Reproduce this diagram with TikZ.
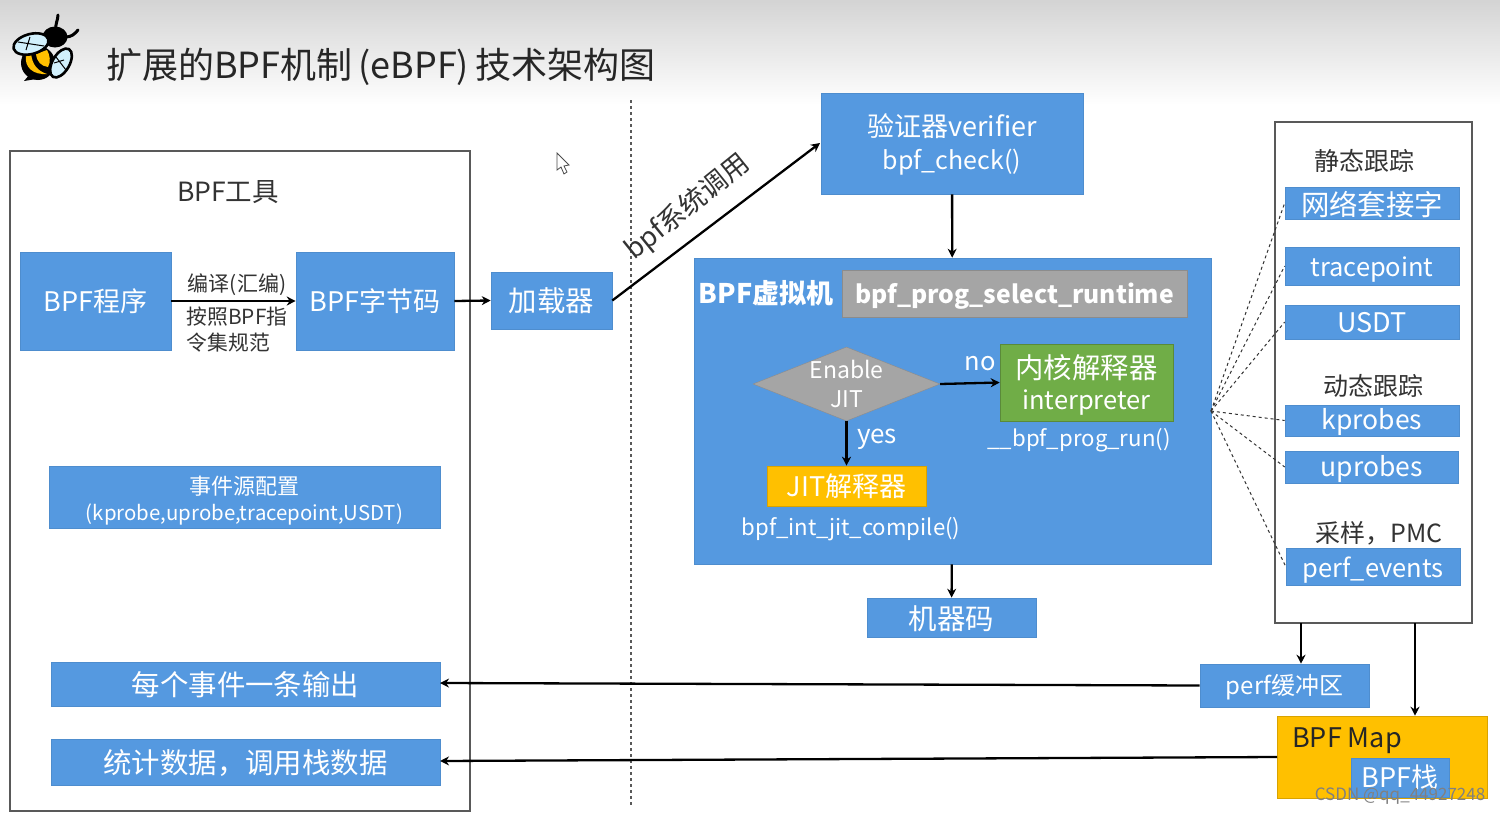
\documentclass[tikz,border=0pt]{standalone}
\usepackage{fontspec}
\setmainfont{Noto Sans CJK SC}
\usepackage{tikz}
\usetikzlibrary{positioning,arrows.meta,shapes.geometric}
\definecolor{boxblue}{HTML}{5599E0}
\definecolor{boxgray}{HTML}{A5A5A5}
\definecolor{boxgreen}{HTML}{70AD47}
\definecolor{boxyellow}{HTML}{FFC000}
\definecolor{inkgray}{HTML}{333333}
\newcommand{\baja}[2]{\raisebox{-#1pt}[\height][\depth]{#2}}
\tikzset{
  arista/.style={line width=2.3pt,-{Stealth[length=9pt,width=9pt]}},
  ramal/.style={line width=1pt,dashed,draw=inkgray},
  caja/.style={draw=boxblue!92!black,line width=0.6pt,fill=boxblue,text=white,inner sep=0pt,align=center,font=\fontsize{27}{34}\selectfont},
  latina/.style={font=\fontsize{25.5}{34}\selectfont},
  hanzi/.style={font=\fontsize{28.4}{34}\selectfont},
  panel/.style={draw=black!65,line width=1.2pt,fill=white,inner sep=0pt},
  rotulo/.style={inner sep=0pt,align=center,text=inkgray,font=\fontsize{25}{28}\selectfont},
  blanco/.style={inner sep=0pt,align=center,text=white,font=\fontsize{22.2}{28}\selectfont},
  ala/.style={fill=cyan!18,draw=black,line width=2.6pt}
}
\begin{document}
\begin{tikzpicture}[x=1pt,y=-1pt]
  \useasboundingbox (0,0) rectangle (1500,814);
  % header
  \shade[top color=black!17,bottom color=white] (0,0) rectangle (1500,105);
  \node[inner sep=0pt,anchor=west,text=black!85,font=\fontsize{36}{40}\selectfont] (title) at (106,67) {扩展的BPF机制\,(eBPF)\,技术架构图};

  % bee
  \draw[black,line width=3pt,line cap=round] (56,30) .. controls (55,24) and (58,20) .. (58,15);
  \draw[black,line width=3pt,line cap=round] (66,37) .. controls (71,37) and (75,34) .. (78,30);
  \fill[black] (55,37) ellipse [x radius=12.5,y radius=10.5];
  \fill[black] (38,63) circle [radius=17];
  \fill[black] (30,74) -- (24,81) -- (36,79) -- cycle;
  \fill[boxyellow] (26,55) .. controls (24,68) and (34,75) .. (47,74) .. controls (38,71) and (32,65) .. (31,53) -- cycle;
  \fill[boxyellow] (36,54) .. controls (37,62) and (41,66) .. (48,67) .. controls (51,62) and (50,55) .. (47,50) -- cycle;
  \draw[ala,rotate around={15:(31,44)}] (31,44) ellipse [x radius=18,y radius=10];
  \draw[ala,rotate around={60:(61,63)}] (61,63) ellipse [x radius=16,y radius=8.5];
  \draw[black,line width=1pt] (18,42) -- (44,46) (30,37) -- (26,50) (56,57) -- (66,70) (54,63) -- (64,60);

  % separator and cursor
  \draw[line width=1.2pt,dashed,draw=black!65] (631,100) -- (631,805);
  \draw[fill=white,draw=black!70,line width=0.8pt] (557,153) -- (557,170) -- (561,167) -- (564,174) -- (567,172) -- (564,166) -- (569,165) -- cycle;

  % panels
  \node[panel,minimum width=460pt,minimum height=660pt] (tools) at (240,481) {};
  \node[panel,minimum width=197pt,minimum height=501pt] (sources) at (1373.5,372.5) {};
  \node[rotulo,font=\fontsize{26.5}{30}\selectfont] (toolstitle) at (228,192) {BPF工具};

  % left side
  \node[caja,minimum width=151pt,minimum height=98pt] (prog) at (95.5,301) {BPF程序};
  \node[caja,minimum width=158pt,minimum height=98pt] (bytecode) at (375,301) {BPF字节码};
  \node[caja,hanzi,minimum width=121pt,minimum height=57pt] (loader) at (551.5,300.5) {加载器};
  \node[rotulo,font=\fontsize{21}{26}\selectfont] (compile) at (237,285) {编译(汇编)};
  \node[rotulo,font=\fontsize{20.8}{26}\selectfont,align=left] (spec) at (237,330) {按照BPF指\\令集规范};
  \node[caja,minimum width=391pt,minimum height=62pt,font=\fontsize{20.4}{26}\selectfont] (evcfg) at (244.5,497) {\baja{4}{\fontsize{22}{26}\selectfont 事件源配置}\\\baja{4}{(kprobe,uprobe,tracepoint,USDT)}};
  \node[caja,hanzi,minimum width=389pt,minimum height=44pt] (perevent) at (245.5,684) {\baja{1}{每个事件一条输出}};
  \node[caja,hanzi,minimum width=389pt,minimum height=46pt] (stats) at (245.5,762) {\baja{1}{统计数据，调用栈数据}};

  % middle
  \node[caja,minimum width=262pt,minimum height=101pt] (verifier) at (952,143.5) {\baja{1}{验证器verifier}\\{\fontsize{25}{34}\selectfont bpf\_check()}};
  \node[caja,minimum width=517pt,minimum height=306pt] (vm) at (952.5,411) {};
  \node[blanco,font=\fontsize{27}{30}\selectfont\bfseries] (vmtitle) at (766,293) {BPF虚拟机};
  \node[caja,fill=boxgray,draw=black!45,minimum width=345pt,minimum height=47pt,font=\fontsize{24.7}{30}\selectfont\bfseries] (select) at (1014.5,293.5) {\baja{3}{bpf\_prog\_select\_runtime}};
  \node[diamond,aspect=2.5,fill=boxgray,draw=black!45,inner sep=0pt,minimum width=187pt,minimum height=74pt] (jit) at (846.5,384) {};
  \node[blanco,font=\fontsize{23}{29}\selectfont] (jitlabel) at (846.5,384) {Enable\\JIT};
  \node[caja,fill=boxgreen,draw=boxgreen!80!black,minimum width=173pt,minimum height=77pt,font=\fontsize{25.5}{34}\selectfont] (interp) at (1086.5,382.5) {\baja{4}{\fontsize{28.4}{34}\selectfont 内核解释器}\\\baja{1}{interpreter}};
  \node[caja,fill=boxyellow,draw=boxyellow!85!black,minimum width=159pt,minimum height=40pt] (jitbox) at (846.5,486) {JIT解释器};
  \node[blanco,font=\fontsize{25.5}{28}\selectfont] (no) at (980,364) {no};
  \node[blanco,font=\fontsize{26}{28}\selectfont] (yes) at (877,439) {yes};
  \node[blanco] (runfn) at (1079,440) {\_\_bpf\_prog\_run()};
  \node[blanco] (compilefn) at (851,529) {bpf\_int\_jit\_compile()};
  \node[caja,hanzi,minimum width=169pt,minimum height=39pt] (machine) at (951.5,617.5) {\baja{1}{机器码}};

  % right side
  \node[rotulo] (statictitle) at (1364,161) {静态跟踪};
  \node[rotulo] (dyntitle) at (1373,386) {动态跟踪};
  \node[rotulo] (pmctitle) at (1379,533) {采样，PMC};
  \node[caja,hanzi,minimum width=174pt,minimum height=32pt] (socket) at (1372,203) {\baja{2}{网络套接字}};
  \node[caja,latina,minimum width=174pt,minimum height=38pt] (tracepoint) at (1372,266) {\baja{4}{tracepoint}};
  \node[caja,minimum width=174pt,minimum height=34pt] (usdt) at (1372,322) {\baja{1}{USDT}};
  \node[caja,font=\fontsize{26.5}{34}\selectfont,minimum width=174pt,minimum height=31pt] (kprobes) at (1372,420.5) {\baja{1}{kprobes}};
  \node[caja,font=\fontsize{26.5}{34}\selectfont,minimum width=173pt,minimum height=32pt] (uprobes) at (1371.5,467) {\baja{2}{uprobes}};
  \node[caja,latina,minimum width=174pt,minimum height=37pt] (perfev) at (1373,566.5) {\baja{4}{perf\_events}};
  \node[caja,font=\fontsize{24}{34}\selectfont,minimum width=169pt,minimum height=43pt] (perfbuf) at (1284.5,685.5) {\baja{2}{perf缓冲区}};
  \node[caja,fill=boxyellow,draw=boxyellow!85!black,minimum width=210pt,minimum height=82pt] (map) at (1382,757) {};
  \node[inner sep=0pt,text=black!85,font=\fontsize{27}{32}\selectfont] (maptitle) at (1347,741) {BPF Map};
  \node[caja,minimum width=98pt,minimum height=39pt] (stack) at (1400,777.5) {BPF栈};
  \node[inner sep=0pt,text=black!50,font=\fontsize{17}{22}\selectfont] (mark) at (1400,796) {CSDN @qq\_44927248};

  % connectors
  \coordinate (fan) at (1211,411);
  \coordinate (tapbuf) at (1301,623);
  \coordinate (tapmap) at (1415,623);
  \coordinate (mapout) at (1277,757);
  \coordinate (bufend) at (440,683);
  \coordinate (statend) at (440,761);
  \coordinate (verin) at (820,143);
  \draw[arista] (prog.east) to (bytecode.west);
  \draw[arista] (bytecode.east) to (loader.west);
  \draw[arista] (loader.east) to (verin);
  \node[rotulo,rotate=39,font=\fontsize{27}{30}\selectfont] (syscall) at (688,207) {bpf系统调用};
  \draw[arista] (verifier) to (vm);
  \draw[arista] (vm) to (machine);
  \draw[arista] (jit.east) to (interp.west);
  \draw[arista] (jit.south) to (jitbox.north);
  \draw[arista] (tapbuf) to (tapbuf |- perfbuf.north);
  \draw[arista] (tapmap) to (tapmap |- map.north);
  \draw[arista] (perfbuf.west) to (bufend);
  \draw[arista] (mapout) to (statend);
  \foreach \src in {socket,tracepoint,usdt,kprobes,uprobes,perfev}
    \draw[ramal] (fan) to (\src.west);
\end{tikzpicture}
\end{document}
